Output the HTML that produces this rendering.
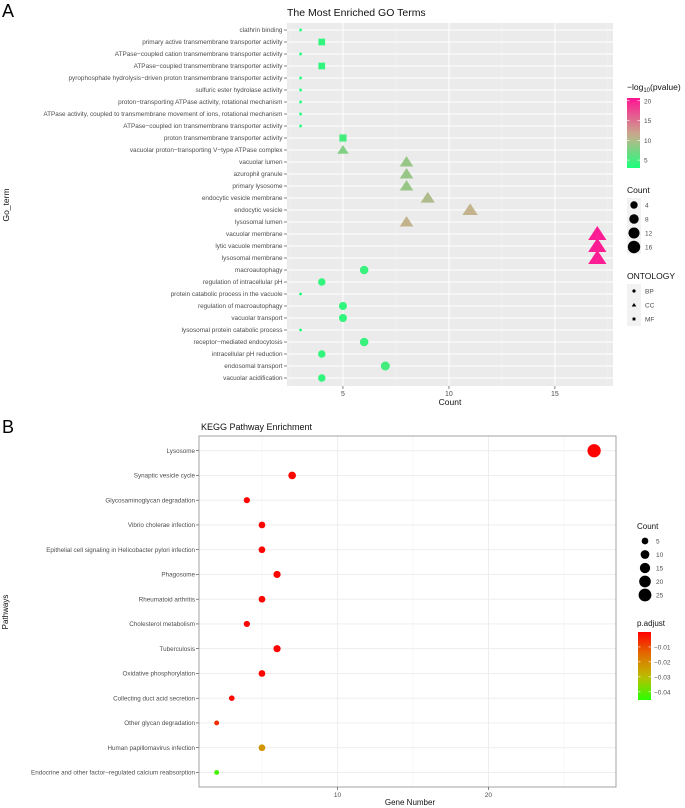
<!DOCTYPE html>
<html><head><meta charset="utf-8"><style>
html,body{margin:0;padding:0;background:#fff;}
svg{display:block;font-family:"Liberation Sans",Arial,sans-serif;}
</style></head><body>
<svg id="chart" width="685" height="808" viewBox="0 0 685 808"></svg>
<script>
// ---------- Panel A data ----------
const goTerms = ["clathrin binding","primary active transmembrane transporter activity","ATPase\u2212coupled cation transmembrane transporter activity","ATPase\u2212coupled transmembrane transporter activity","pyrophosphate hydrolysis\u2212driven proton transmembrane transporter activity","sulfuric ester hydrolase activity","proton\u2212transporting ATPase activity, rotational mechanism","ATPase activity, coupled to transmembrane movement of ions, rotational mechanism","ATPase\u2212coupled ion transmembrane transporter activity","proton transmembrane transporter activity","vacuolar proton\u2212transporting V\u2212type ATPase complex","vacuolar lumen","azurophil granule","primary lysosome","endocytic vesicle membrane","endocytic vesicle","lysosomal lumen","vacuolar membrane","lytic vacuole membrane","lysosomal membrane","macroautophagy","regulation of intracellular pH","protein catabolic process in the vacuole","regulation of macroautophagy","vacuolar transport","lysosomal protein catabolic process","receptor\u2212mediated endocytosis","intracellular pH reduction","endosomal transport","vacuolar acidification"];
const goCounts = [3,4,3,4,3,3,3,3,3,5,5,8,8,8,9,11,8,17,17,17,6,4,3,5,5,3,6,4,7,4];
const goOntology = ["MF","MF","MF","MF","MF","MF","MF","MF","MF","MF","CC","CC","CC","CC","CC","CC","CC","CC","CC","CC","BP","BP","BP","BP","BP","BP","BP","BP","BP","BP"];
const goLogP = [3,4,3,4,3,3,3,3,3,5,8,9,9,9,10,11,11,20.5,20.5,20.5,4.5,4,3,4,4,3,4.5,4,5,4];
const goXTicks = [5,10,15];
const goPTicks = [5,10,15,20];
const goSizeTicks = [4,8,12,16];

// ---------- Panel B data ----------
const keggPaths = ["Lysosome","Synaptic vesicle cycle","Glycosaminoglycan degradation","Vibrio cholerae infection","Epithelial cell signaling in Helicobacter pylori infection","Phagosome","Rheumatoid arthritis","Cholesterol metabolism","Tuberculosis","Oxidative phosphorylation","Collecting duct acid secretion","Other glycan degradation","Human papillomavirus infection","Endocrine and other factor\u2212regulated calcium reabsorption"];
const keggCounts = [27,7,4,5,5,6,5,4,6,5,3,2,5,2];
const keggPadj = [0.0001,0.0005,0.0005,0.0005,0.0005,0.0005,0.0005,0.0005,0.0005,0.0005,0.001,0.006,0.022,0.042];
const keggXTicks = [10,20];
const keggSizeTicks = [5,10,15,20,25];
const keggPTicks = [0.01,0.02,0.03,0.04];

const NS="http://www.w3.org/2000/svg";
const svg=document.getElementById('chart');
function el(tag,attrs,parent){const e=document.createElementNS(NS,tag);for(const k in attrs)e.setAttribute(k,attrs[k]);(parent||svg).appendChild(e);return e;}
function txt(s,attrs,parent){const e=el('text',attrs,parent);e.textContent=s;return e;}
function lerp(a,b,t){return a+(b-a)*t;}
function mix(c1,c2,t){return 'rgb('+[0,1,2].map(i=>Math.round(lerp(c1[i],c2[i],t))).join(',')+')';}
function goColor(v){const lo=[26,255,122],mid=[196,178,140],hi=[255,20,147];const t=(v-3)/(21-3);
  return t<0.45?mix(lo,mid,Math.max(0,t/0.45)):mix(mid,hi,Math.min(1,(t-0.45)/0.55));}
function keggColor(p){const r=[255,0,0],o=[225,110,0],y=[190,190,0],g=[40,255,0];const t=Math.min(1,p/0.045);
  if(t<0.33)return mix(r,o,t/0.33); if(t<0.66)return mix(o,y,(t-0.33)/0.33); return mix(y,g,(t-0.66)/0.34);}

// ===== Panel A =====
const A={l:287,r:613,t:23,b:386,xmin:2.36,xmax:17.74};
const ax=v=>A.l+(v-A.xmin)/(A.xmax-A.xmin)*(A.r-A.l);
const ay=i=>30+i*12;
const aSize=c=>1.2+Math.sqrt(c)*1.25;
const gA=el('g',{},svg);
txt('A',{x:2,y:17,'font-size':18},gA);
txt('The Most Enriched GO Terms',{x:287,y:16,'font-size':10.5,fill:'#111'},gA);
const bgA=el('rect',{x:A.l,y:A.t,width:A.r-A.l,height:A.b-A.t,fill:'#ebebeb'},gA);
[2.5,7.5,12.5,17.5].forEach(v=>el('line',{x1:ax(v),x2:ax(v),y1:A.t,y2:A.b,stroke:'#f5f5f5','stroke-width':0.5},gA));
goXTicks.forEach(v=>el('line',{x1:ax(v),x2:ax(v),y1:A.t,y2:A.b,stroke:'#fff','stroke-width':1},gA));
goTerms.forEach((t,i)=>{el('line',{x1:A.l,x2:A.r,y1:ay(i),y2:ay(i),stroke:'#fff','stroke-width':1},gA);
  el('line',{x1:A.l-3,x2:A.l,y1:ay(i),y2:ay(i),stroke:'#333','stroke-width':0.6},gA);
  const lt=txt(t,{x:A.l-4.5,y:ay(i)+2.2,'font-size':6.4,'text-anchor':'end',fill:'#4d4d4d'},gA);});
goXTicks.forEach(v=>{el('line',{x1:ax(v),x2:ax(v),y1:A.b,y2:A.b+3,stroke:'#333','stroke-width':0.6},gA);
  txt(String(v),{x:ax(v),y:A.b+10,'font-size':7,'text-anchor':'middle',fill:'#4d4d4d'},gA);});
txt('Count',{x:450,y:405,'font-size':8.5,'text-anchor':'middle',fill:'#111'},gA);
txt('Go_term',{x:9,y:205,'font-size':8.5,'text-anchor':'middle',fill:'#111',transform:'rotate(-90 9 205)'},gA);
function shape(kind,cx,cy,r,fill,parent){
  if(kind==='CC'){const h=r*1.25;return el('polygon',{points:`${cx},${cy-h} ${cx-h*1.15},${cy+h*0.75} ${cx+h*1.15},${cy+h*0.75}`,fill:fill},parent);}
  if(kind==='MF'){const s=r*0.9;return el('rect',{x:cx-s,y:cy-s,width:2*s,height:2*s,fill:fill},parent);}
  return el('circle',{cx:cx,cy:cy,r:r,fill:fill},parent);}
goCounts.forEach((c,i)=>{const r=c<=3?1.4:aSize(c);const m=shape(goOntology[i],ax(c),ay(i),r,goColor(goLogP[i]),gA);
  });
// legends A
const lgA=el('g',{},gA);
const pt=txt('\u2212log',{x:627,y:90,'font-size':8.5,fill:'#111'},lgA);
const sub=el('tspan',{'font-size':6,dy:2},pt);sub.textContent='10';const t2=el('tspan',{dy:-2},pt);t2.textContent='(pvalue)';
const defs=el('defs',{},svg);
const grA=el('linearGradient',{id:'gA',x1:0,y1:1,x2:0,y2:0},defs);
for(let k=0;k<=10;k++){const v=3+k*1.8;el('stop',{offset:k/10,'stop-color':goColor(v)},grA);}
const cbA=el('rect',{x:627,y:98,width:13,height:70,fill:'url(#gA)'},lgA);
const pY=v=>168-(v-3)/(20.7-3)*70;
goPTicks.forEach(v=>{txt(String(v),{x:644,y:pY(v)+2.5,'font-size':6.5,fill:'#4d4d4d'},lgA);
  el('line',{x1:627,x2:629.5,y1:pY(v),y2:pY(v),stroke:'#fff','stroke-width':0.6},lgA);el('line',{x1:637.5,x2:640,y1:pY(v),y2:pY(v),stroke:'#fff','stroke-width':0.6},lgA);});
txt('Count',{x:627,y:193,'font-size':8.5,fill:'#111'},lgA);
goSizeTicks.forEach((v,i)=>{const y=205+i*14;el('rect',{x:627,y:y-7,width:14,height:14,fill:'#f2f2f2'},lgA);
  el('circle',{cx:634,cy:y,r:aSize(v),fill:'#000'},lgA);txt(String(v),{x:645,y:y+2.5,'font-size':6.5,fill:'#4d4d4d'},lgA);});
txt('ONTOLOGY',{x:627,y:279,'font-size':8.5,fill:'#111'},lgA);
['BP','CC','MF'].forEach((k,i)=>{const y=291+i*14;el('rect',{x:627,y:y-7,width:14,height:14,fill:'#f2f2f2'},lgA);
  shape(k,634,y,1.6,'#000',lgA);txt(k,{x:645,y:y+2.5,'font-size':6.5,fill:'#4d4d4d'},lgA);});

// ===== Panel B =====
const B={l:199,r:616,t:436,b:787,xmin:0.83,xmax:28.45};
const bx=v=>B.l+(v-B.xmin)/(B.xmax-B.xmin)*(B.r-B.l);
const by=i=>450.7+i*24.75;
const bSize=c=>0.9+Math.sqrt(c)*1.1;
const gB=el('g',{},svg);
txt('B',{x:2,y:433,'font-size':18},gB);
txt('KEGG Pathway Enrichment',{x:201,y:430,'font-size':9,fill:'#111'},gB);
const bgB=el('rect',{x:B.l,y:B.t,width:B.r-B.l,height:B.b-B.t,fill:'#fff'},gB);
[5,15,25].forEach(v=>el('line',{x1:bx(v),x2:bx(v),y1:B.t,y2:B.b,stroke:'#f3f3f3','stroke-width':0.6},gB));
keggXTicks.forEach(v=>el('line',{x1:bx(v),x2:bx(v),y1:B.t,y2:B.b,stroke:'#ebebeb','stroke-width':0.8},gB));
keggPaths.forEach((p,i)=>{el('line',{x1:B.l,x2:B.r,y1:by(i),y2:by(i),stroke:'#ebebeb','stroke-width':0.9},gB);
  el('line',{x1:B.l-3,x2:B.l,y1:by(i),y2:by(i),stroke:'#333','stroke-width':0.6},gB);
  txt(p,{x:B.l-4,y:by(i)+2.2,'font-size':6.3,'text-anchor':'end',fill:'#4d4d4d'},gB);});
el('rect',{x:B.l,y:B.t,width:B.r-B.l,height:B.b-B.t,fill:'none',stroke:'#999','stroke-width':0.9},gB);
keggXTicks.forEach(v=>{el('line',{x1:bx(v),x2:bx(v),y1:B.b,y2:B.b+3,stroke:'#333','stroke-width':0.6},gB);
  txt(String(v),{x:bx(v),y:B.b+10,'font-size':6.5,'text-anchor':'middle',fill:'#4d4d4d'},gB);});
txt('Gene Number',{x:410,y:805,'font-size':8,'text-anchor':'middle',fill:'#111'},gB);
txt('Pathways',{x:8,y:612,'font-size':8,'text-anchor':'middle',fill:'#111',transform:'rotate(-90 8 612)'},gB);
keggCounts.forEach((c,i)=>{const m=el('circle',{cx:bx(c),cy:by(i),r:bSize(c),fill:keggColor(keggPadj[i])},gB);
  });
const lgB=el('g',{},gB);
txt('Count',{x:637,y:529,'font-size':8,fill:'#111'},lgB);
keggSizeTicks.forEach((v,i)=>{const y=541+i*13.5;el('circle',{cx:645,cy:y,r:bSize(v),fill:'#000'},lgB);
  txt(String(v),{x:656,y:y+2.5,'font-size':6.5,fill:'#4d4d4d'},lgB);});
txt('p.adjust',{x:637,y:626,'font-size':8,fill:'#111'},lgB);
const grB=el('linearGradient',{id:'gB',x1:0,y1:0,x2:0,y2:1},defs);
for(let k=0;k<=10;k++){el('stop',{offset:k/10,'stop-color':keggColor(k*0.0045)},grB);}
const cbB=el('rect',{x:638,y:632,width:13,height:68,fill:'url(#gB)'},lgB);
const qY=v=>632+(v/0.0455)*68;
keggPTicks.forEach(v=>{txt('\u2212'+v.toFixed(2),{x:654,y:qY(v)+2.5,'font-size':6.5,fill:'#4d4d4d'},lgB);
  el('line',{x1:638,x2:640.5,y1:qY(v),y2:qY(v),stroke:'#fff','stroke-width':0.6},lgB);el('line',{x1:648.5,x2:651,y1:qY(v),y2:qY(v),stroke:'#fff','stroke-width':0.6},lgB);});
</script>
</body></html>
